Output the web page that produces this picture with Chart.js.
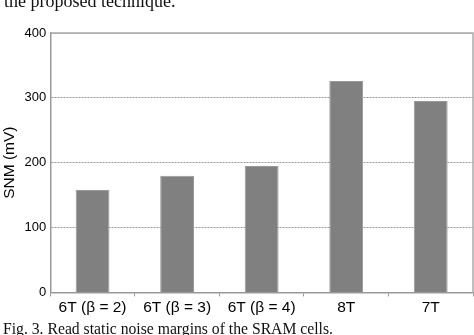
<!DOCTYPE html>
<html>
<head>
<meta charset="utf-8">
<script src="https://cdn.jsdelivr.net/npm/chart.js@4"></script>
<style>
  html, body { margin: 0; padding: 0; background: #fff; }
  #wrap { position: relative; width: 474px; height: 335px; overflow: hidden; }
  #chart { position: absolute; left: 0; top: 0; }
  .cap { position: absolute; font-family: "Liberation Serif", "Times New Roman", serif; color: #111; white-space: nowrap; }
  #top { left: 4px; top: -9px; font-size: 18px; }
  #bottom { left: 3px; top: 320px; font-size: 15.7px; }
</style>
</head>
<body>
<div id="wrap">
  <canvas id="chart" width="474" height="335"></canvas>
  <div class="cap" id="top">the proposed technique.</div>
  <div class="cap" id="bottom">Fig. 3. Read static noise margins of the SRAM cells.</div>
</div>
<script>
const cells = ['6T (β = 2)', '6T (β = 3)', '6T (β = 4)', '8T', '7T'];
const snm = [158, 180, 195, 326, 295];
const yTicks = [0, 100, 200, 300, 400];

// rahmen oben und rechts
const frame = {
  id: 'frame',
  afterDraw(c) {
    const a = c.chartArea, ctx = c.ctx;
    ctx.save();
    ctx.strokeStyle = '#aaa';
    ctx.lineWidth = 1.5;
    ctx.beginPath();
    ctx.moveTo(a.left, a.top);
    ctx.lineTo(a.right, a.top);
    ctx.lineTo(a.right, a.bottom);
    ctx.stroke();
    ctx.restore();
  }
};

new Chart(document.getElementById('chart'), {
  type: 'bar',
  data: {
    labels: cells,
    datasets: [{
      data: snm,
      backgroundColor: '#808080',
      borderColor: '#999',
      borderWidth: 1,
      barPercentage: 0.4,
      categoryPercentage: 1
    }]
  },
  options: {
    responsive: false,
    animation: false,
    layout: { padding: { left: 0, right: 1, top: 33, bottom: 16 } },
    plugins: { legend: { display: false }, tooltip: { enabled: false } },
    scales: {
      x: {
        grid: { offset: true, drawOnChartArea: false, drawTicks: true, tickLength: 4, color: '#999' },
        border: { color: '#999', width: 1.5 },
        ticks: { color: '#000', font: { family: 'Liberation Sans, Arial', size: 15.5 }, padding: 2, maxRotation: 0, autoSkip: false }
      },
      y: {
        min: 0, max: 400,
        afterBuildTicks: ax => { ax.ticks = yTicks.map(v => ({ value: v })); },
        grid: { color: '#999', drawTicks: false, lineWidth: 1 },
        border: { color: '#999', width: 1.5, dash: [2, 1] },
        ticks: { color: '#000', font: { family: 'Liberation Sans, Arial', size: 13 }, padding: 4 },
        title: { display: true, text: 'SNM (mV)', color: '#000', font: { family: 'Liberation Sans, Arial', size: 15.5 }, padding: { top: 0, bottom: 2 } }
      }
    }
  },
  plugins: [frame]
});
</script>
</body>
</html>
